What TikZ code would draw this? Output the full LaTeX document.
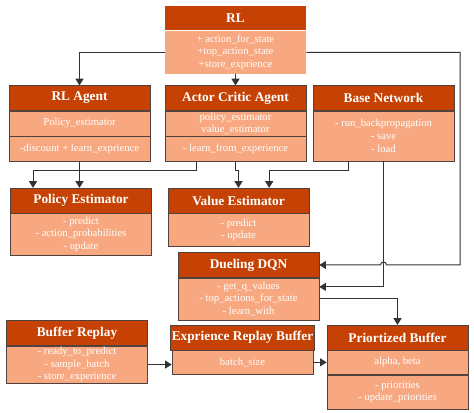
\documentclass[tikz,border=0pt]{standalone}
\usepackage{fontspec}
\setmainfont{Liberation Serif}
\definecolor{umlhead}{RGB}{198,66,4}
\definecolor{umlbody}{RGB}{247,168,128}
\definecolor{umledge}{RGB}{80,66,60}
\usetikzlibrary{calc}
\usetikzlibrary{positioning}
\usetikzlibrary{arrows.meta}

\begin{document}
\begin{tikzpicture}[x=0.75pt, y=0.75pt,
  head/.style={fill=umlhead, text=white, draw=umledge, line width=0.4pt, minimum width=105.75pt, minimum height=18.5pt, inner sep=1pt, font=\fontsize{10}{11.5}\selectfont\bfseries},
  slot/.style={fill=umlbody, text=white, draw=umledge, line width=0.4pt, minimum width=105.75pt, inner sep=1pt, align=center, font=\fontsize{8}{9.4}\selectfont, below=0pt of #1},
  conn/.style={draw=black!80, line width=0.75pt, -{Triangle[width=6pt,length=5pt]}}]

  \useasboundingbox (0,0) rectangle (474,413);

  % classes
  \node [head, draw=none] (rl) at (235.5,395) {RL};
  \node [slot=rl, draw=none, minimum height=32.25pt] (rl-b) {+ action\_for\_state\\+top\_action\_state\\+store\_exprience};

  \node [head] (ag) at (79.5,315) {RL Agent};
  \node [slot=ag, minimum height=18.75pt] (ag-b1) {Policy\_estimator};
  \node [slot=ag-b1, minimum height=18.75pt] (ag-b2) {-discount + learn\_exprience};

  \node [head] (ac) at (235.5,315) {Actor Critic Agent};
  \node [slot=ac, minimum height=18.75pt] (ac-b1) {policy\_estimator\\value\_estimator};
  \node [slot=ac-b1, minimum height=18.75pt] (ac-b2) {- learn\_from\_experience};

  \node [head] (bn) at (383.5,315) {Base Network};
  \node [slot=bn, minimum height=37.5pt] (bn-b) {- run\_backpropagation\\- save\\- load};

  \node [head] (pe) at (81,212.5) {Policy Estimator};
  \node [slot=pe, minimum height=31.5pt] (pe-b) {- predict\\- action\_probabilities\\- update};

  \node [head] (ve) at (238.5,212.5) {Value Estimator};
  \node [slot=ve, minimum height=24.75pt] (ve-b) {- predict\\- update};

  \node [head] (dq) at (248.5,148) {Dueling DQN};
  \node [slot=dq, minimum height=31.5pt] (dq-b) {- get\_q\_values\\- top\_actions\_for\_state\\- learn\_with};

  \node [head] (br) at (77,80) {Buffer Replay};
  \node [slot=br, minimum height=27.75pt] (br-b) {- ready\_to\_predict\\- sample\_batch\\- store\_experience};

  \node [head] (ex) at (242.5,75.5) {Exprience Replay Buffer};
  \node [slot=ex, minimum height=18pt] (ex-b) {batch\_size};

  \node [head] (pb) at (397.5,75.5) {Priortized Buffer};
  \node [slot=pb, minimum height=18pt] (pb-b1) {alpha, beta};
  \node [slot=pb-b1, minimum height=25.5pt] (pb-b2) {- priorities\\- update\_priorities};

  \coordinate (rim) at (460,0);

  % links
  \draw [conn] (rl-b.west) -| (ag.north);
  \draw [conn] (rl-b.south) -- (ac.north);
  \draw [conn] (rl-b.east) -| (rim |- dq.east) -- ($(bn-b.south |- dq.east)+(3,0)$) arc [start angle=0, end angle=180, radius=2.25pt] -- (dq.east);

  \draw [conn] (ag-b2.south) -- (ag-b2.south |- pe.north);
  \draw [conn] ([xshift=-29pt]ac-b2.south) -- ++(0,-9) -| ([xshift=-36pt]pe.north);
  \draw [conn] (ac-b2.south) -- ++(0,-9) -| (ve.north);
  \draw [conn] ([xshift=-26pt]bn-b.south) -- ++(0,-9) -| ([xshift=23pt]ve.north);
  \draw [conn] (bn-b.south) |- ([yshift=9pt]dq-b.east);

  \draw [conn] (dq-b.east) -| (pb.north);
  \draw [conn] (br-b.east) -- (br-b.east -| ex-b.west);
  \draw [conn] (ex-b.east) -- (ex-b.east -| pb-b1.west);

\end{tikzpicture}
\end{document}
